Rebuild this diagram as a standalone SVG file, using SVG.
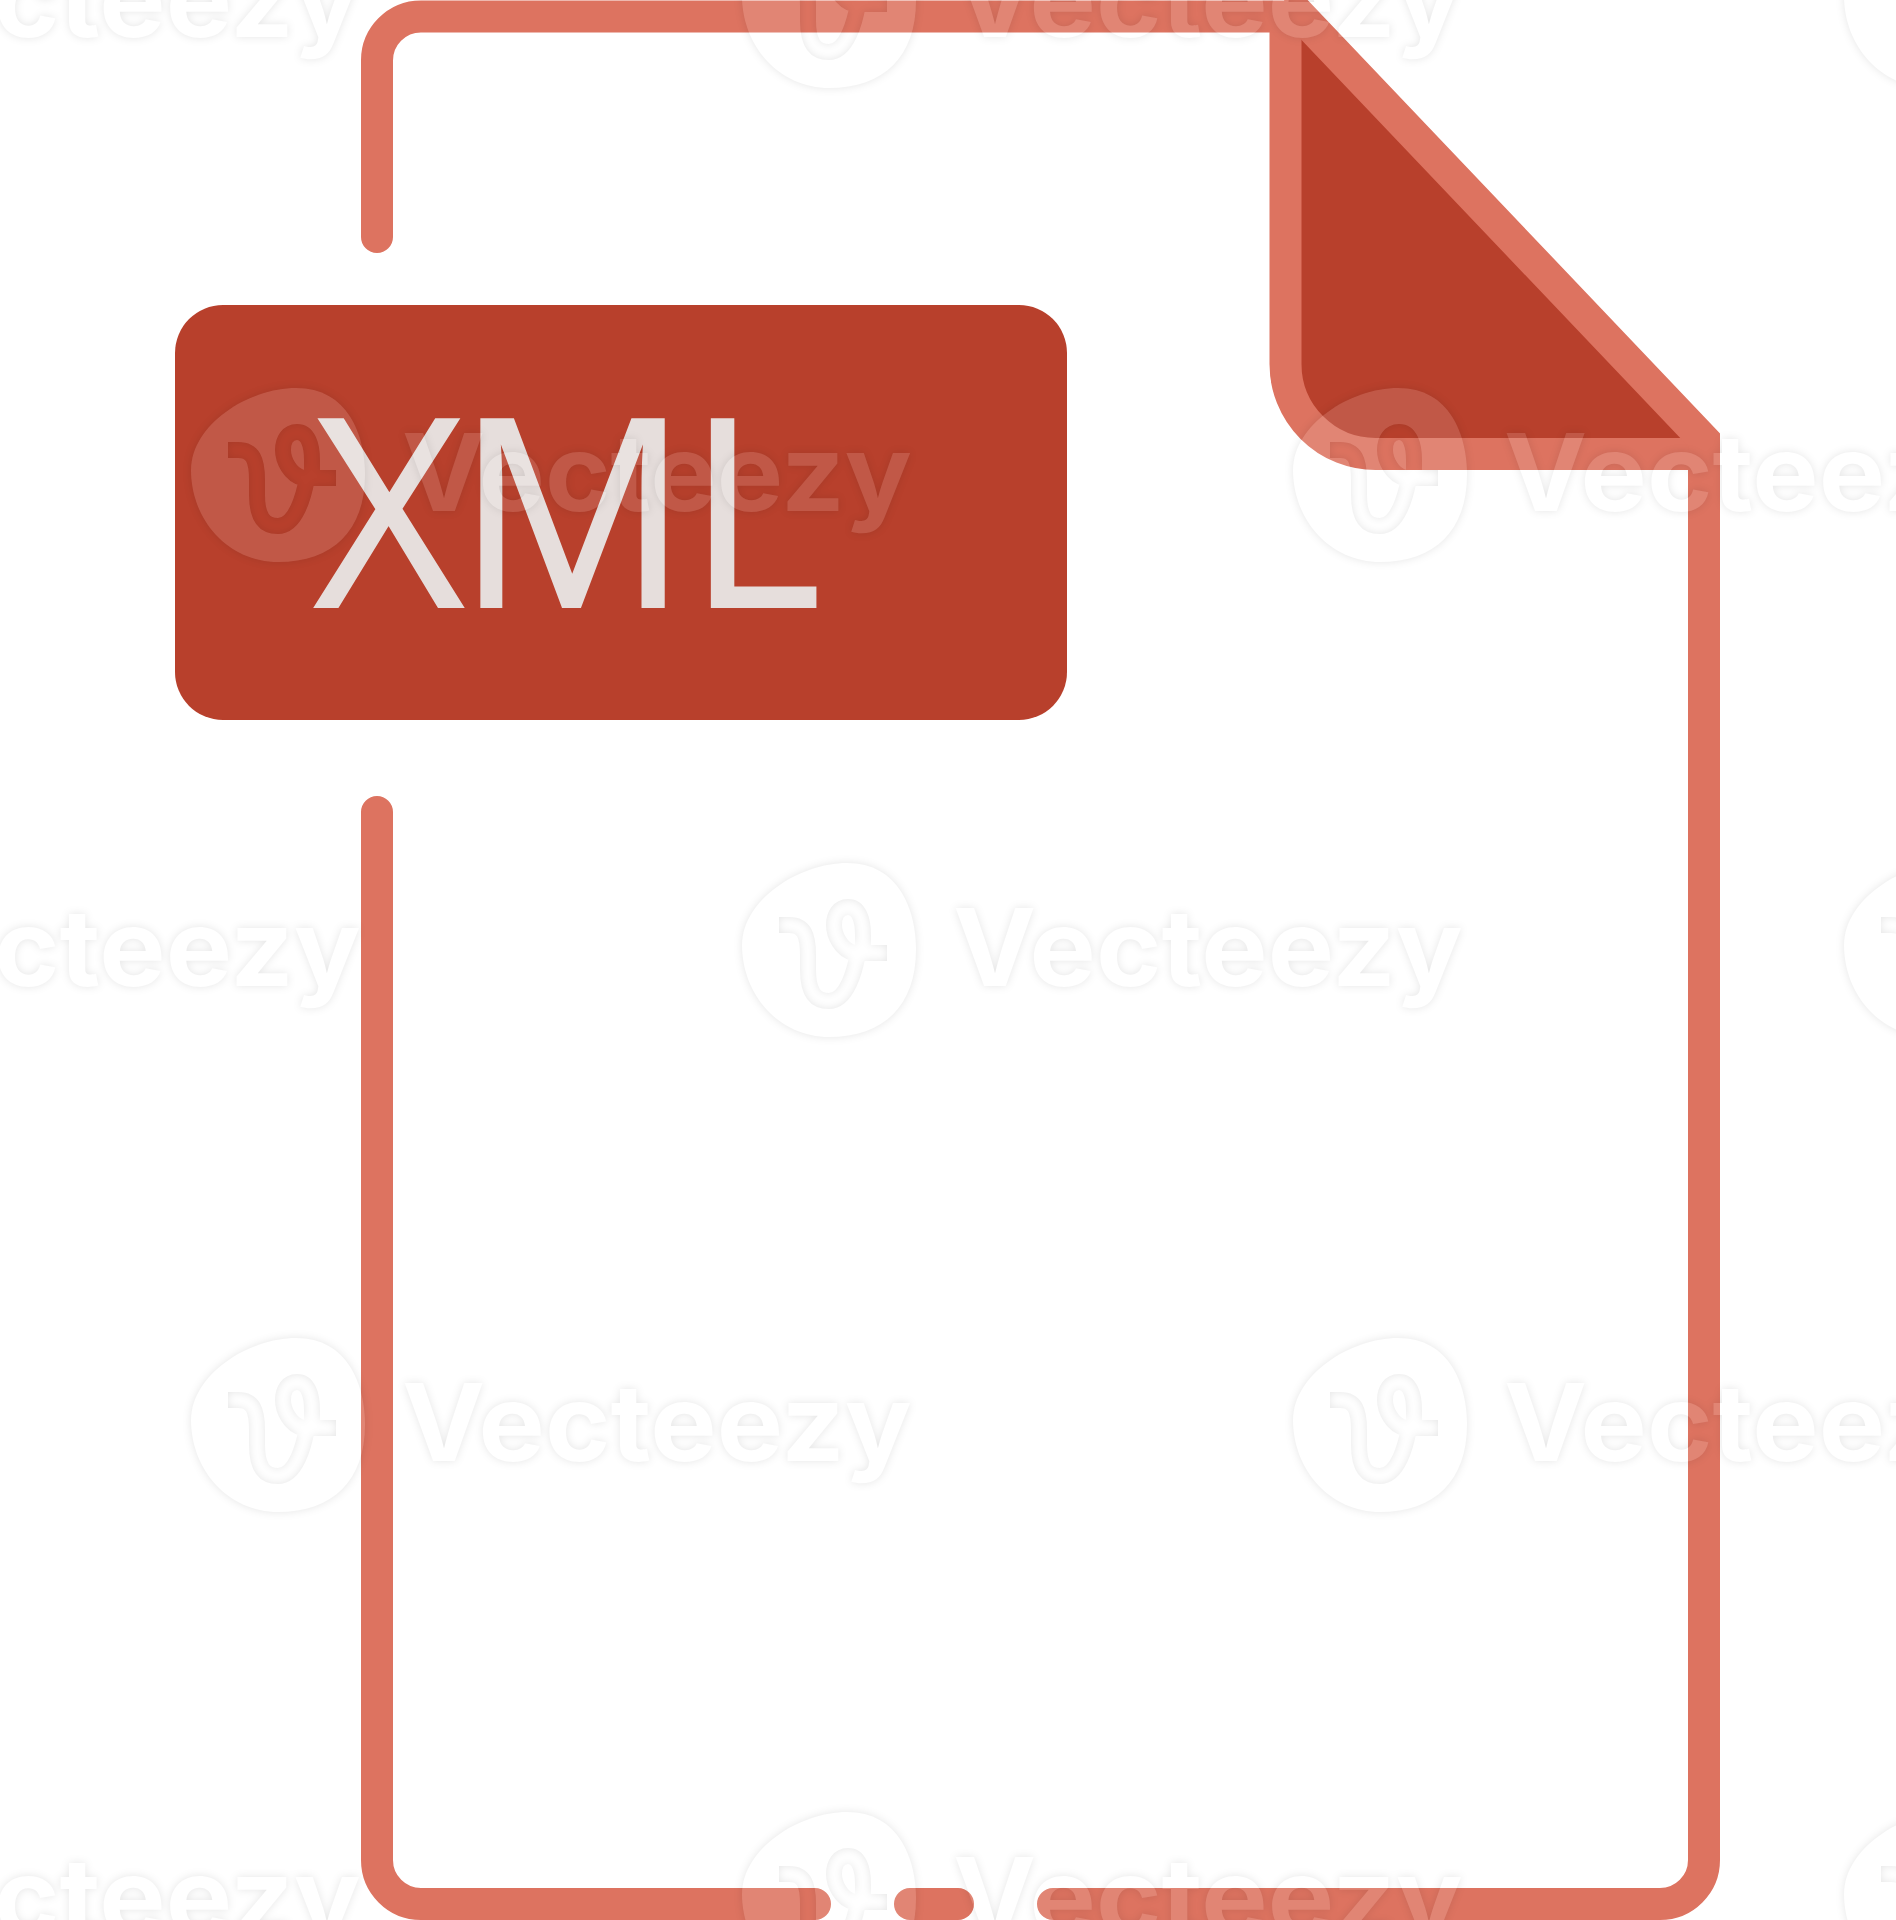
<svg xmlns="http://www.w3.org/2000/svg" width="1896" height="1920" viewBox="0 0 1896 1920">
<style>
.line{fill:none;stroke:#dd7360;stroke-width:32;stroke-linecap:round;stroke-linejoin:round}
.dark{fill:#b8402c}
.label{font-family:"Open Sans","Liberation Sans",sans-serif;font-size:263px;fill:#e6dedc;stroke:#e6dedc;stroke-width:2}
.wt{font-family:Inter,"Liberation Sans",sans-serif;font-weight:700;font-size:107px}
.wmfill{fill:#fff;opacity:.13}
</style>
<defs>
<path id="wblob" d="M-87 -5C-87 -50 -30 -87 18 -87C70 -87 87 -40 87 0C87 55 55 87 0 87C-50 87 -87 45 -87 -5Z"/>
<path id="wloop" d="M-50 -25H-40C-25 -25 -21 -15 -21 5V20C-21 40 -15 51 0 51C18 51 26 20 29 3M58 3H25C12 0 5 -15 5 -25C5 -35 10 -43 19 -43C30 -43 34 -30 34 -15V3"/>
<text id="wtext" class="wt" x="124" y="36" textLength="510" lengthAdjust="spacingAndGlyphs">Vecteezy</text>
<filter id="halo" x="-15%" y="-30%" width="130%" height="160%">
<feGaussianBlur in="SourceAlpha" stdDeviation="4.500" result="b"/>
<feComposite in="b" in2="SourceAlpha" operator="out" result="o"/>
<feFlood flood-color="#000" flood-opacity=".1"/>
<feComposite in2="o" operator="in"/>
</filter>
<mask id="cut" maskUnits="userSpaceOnUse" x="-100" y="-100" width="200" height="200">
<use href="#wblob" fill="#fff"/>
<use href="#wloop" fill="none" stroke="#000" stroke-width="16"/>
</mask>
<clipPath id="edge"><rect x="0" y="0" width="1720" height="1920"/></clipPath>
<g id="wm">
<g filter="url(#halo)">
<rect x="-100" y="-100" width="200" height="200" mask="url(#cut)"/>
<use href="#wtext"/>
</g>
<g class="wmfill">
<rect x="-100" y="-100" width="200" height="200" mask="url(#cut)"/>
<use href="#wtext"/>
</g>
</g>
</defs>
<rect width="1896" height="1920" fill="#fff"/>
<g id="fold">
<path class="dark" d="M1295 30V364A80 80 0 0 0 1375 444H1690Z"/>
<path class="line" style="stroke-linecap:butt" d="M1285.500 17V364A90 90 0 0 0 1375.500 454H1704"/>
</g>
<g id="outline" clip-path="url(#edge)">
<path class="line" d="M377 237V61A44 44 0 0 1 421 16.500H1296V11L1708 444L1704 450V1860A44 44 0 0 1 1660 1904H1053"/>
<path class="line" d="M377 812V1860A44 44 0 0 0 421 1904H815"/>
<path class="line" d="M910 1904H958"/>
</g>
<g id="badge">
<rect class="dark" x="175" y="305" width="892" height="415" rx="48"/>
<text class="label" transform="scale(.985 1)" x="319 463 697" y="607">XML</text>
</g>
<g id="watermarks">
<use href="#wm" x="-273" y="1"/><use href="#wm" x="829" y="1"/><use href="#wm" x="1931" y="1"/>
<use href="#wm" x="278" y="475"/><use href="#wm" x="1380" y="475"/>
<use href="#wm" x="-273" y="950"/><use href="#wm" x="829" y="950"/><use href="#wm" x="1931" y="950"/>
<use href="#wm" x="278" y="1425"/><use href="#wm" x="1380" y="1425"/>
<use href="#wm" x="-273" y="1899"/><use href="#wm" x="829" y="1899"/><use href="#wm" x="1931" y="1899"/>
</g>
</svg>
